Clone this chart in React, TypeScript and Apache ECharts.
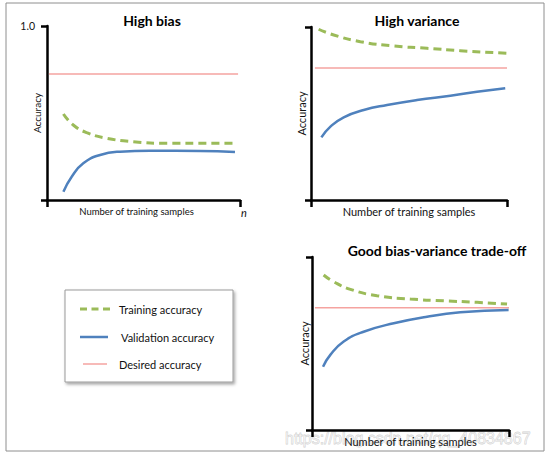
import React, { useEffect, useRef } from "react";
import * as echarts from "echarts";

// x positions (number of training samples, 0..10) and accuracy (0..1)
const biasTrainX = [0.85, 1.36, 2.06, 3.09, 4.47, 6.19, 9.74];
const biasTrainY = [0.494, 0.431, 0.387, 0.355, 0.335, 0.326, 0.326];
const biasValX = [0.85, 1.28, 1.88, 2.75, 3.78, 5.34, 7.93, 9.74];
const biasValY = [0.048, 0.134, 0.211, 0.259, 0.278, 0.283, 0.282, 0.276];
const biasDesired = 0.724;

const varTrainX = [0.39, 1.16, 2.52, 4.22, 5.92, 7.62, 10];
const varTrainY = [0.987, 0.954, 0.915, 0.89, 0.877, 0.863, 0.848];
const varValX = [0.53, 0.99, 1.67, 2.69, 3.88, 5.41, 7.11, 8.47, 9.91];
const varValY = [0.362, 0.424, 0.478, 0.52, 0.549, 0.578, 0.603, 0.626, 0.646];
const varDesired = 0.763;

const goodTrainX = [0.59, 1.1, 1.95, 3.3, 4.99, 6.69, 8.38, 9.9];
const goodTrainY = [0.896, 0.857, 0.813, 0.776, 0.757, 0.747, 0.738, 0.728];
const goodValX = [0.56, 0.93, 1.61, 2.62, 4.15, 5.84, 7.53, 9.98];
const goodValY = [0.366, 0.434, 0.511, 0.568, 0.617, 0.655, 0.68, 0.694];
const goodDesired = 0.707;

const titles = ["High bias", "High variance", "Good bias-variance trade-off"];
const legendNames = ["Training accuracy", "Validation accuracy", "Desired accuracy"];
const yTickLabel = "1.0";

const GREEN = "#9bbb59";
const BLUE = "#4f81bd";
const RED = "#f5a3a0";
const FONT = "Lato";

const pair = (xs: number[], ys: number[]) => xs.map((x, i) => [x, ys[i]]);

const App: React.FC = () => {
  const chartRef = useRef<HTMLDivElement>(null);

  useEffect(() => {
    if (!chartRef.current) return;
    const chart = echarts.init(chartRef.current, undefined, { renderer: "svg" });

    const grids = [
      { left: 47, top: 26, width: 193, height: 174 },
      { left: 311, top: 27, width: 196, height: 173 },
      { left: 312, top: 257, width: 197, height: 173 },
    ];
    // the first panel was pasted a little smaller in the source figure
    const xNameSize = [9.5, 11, 11];
    const yNameSize = [10, 11, 11];
    const yNameGap = [5, 4, 2];

    const axisLine = { show: true, lineStyle: { color: "#000", width: 2.5 } };

    const xAxes = grids.map((_, i) => ({
      type: "value" as const,
      gridIndex: i,
      min: 0,
      max: 10,
      interval: 10,
      axisLine,
      axisTick: { show: true, length: 7, lineStyle: { color: "#000", width: 2.5 } },
      axisLabel: { show: false },
      splitLine: { show: false },
      name: "Number of training samples",
      nameLocation: "middle" as const,
      nameGap: 6,
      nameTextStyle: {
        fontFamily: FONT,
        fontSize: xNameSize[i],
        color: "#111",
        padding: i === 0 ? [0, 14, 0, 0] : [0, 0, 0, 0],
      },
    }));

    const yAxes = grids.map((_, i) => ({
      type: "value" as const,
      gridIndex: i,
      min: 0,
      max: 1,
      interval: 1,
      axisLine,
      axisTick: { show: true, length: 6, lineStyle: { color: "#000", width: 2.5 } },
      axisLabel: {
        show: i === 0,
        margin: 12,
        fontFamily: FONT,
        fontSize: 10.5,
        color: "#111",
        formatter: (v: number) => (v === 1 ? yTickLabel : ""),
      },
      splitLine: { show: false },
      name: "Accuracy",
      nameLocation: "middle" as const,
      nameRotate: 90,
      nameGap: yNameGap[i],
      nameMoveOverlap: false,
      nameTextStyle: { fontFamily: FONT, fontSize: yNameSize[i], color: "#111" },
    }));

    const panels = [
      { train: pair(biasTrainX, biasTrainY), val: pair(biasValX, biasValY), desired: biasDesired, dx: [0.1, 9.9] },
      { train: pair(varTrainX, varTrainY), val: pair(varValX, varValY), desired: varDesired, dx: [0.2, 10] },
      { train: pair(goodTrainX, goodTrainY), val: pair(goodValX, goodValY), desired: goodDesired, dx: [0.15, 10] },
    ];

    const series: any[] = [];
    panels.forEach((p, i) => {
      series.push({
        name: legendNames[2],
        type: "line",
        xAxisIndex: i,
        yAxisIndex: i,
        data: p.dx.map((x) => [x, p.desired]),
        symbol: "none",
        lineStyle: { color: RED, width: 1.5 },
      });
      series.push({
        name: legendNames[0],
        type: "line",
        xAxisIndex: i,
        yAxisIndex: i,
        data: p.train,
        smooth: true,
        symbol: "none",
        lineStyle: { color: GREEN, width: 3, type: [8, 5] },
      });
      series.push({
        name: legendNames[1],
        type: "line",
        xAxisIndex: i,
        yAxisIndex: i,
        data: p.val,
        smooth: true,
        symbol: "none",
        lineStyle: { color: BLUE, width: 2.5 },
      });
    });

    const titlePos = [
      { x: 147, y: 17 },
      { x: 412, y: 17 },
      { x: 432, y: 247 },
    ];

    const legendRows = [
      { y: 309, color: GREEN, dash: [7, 4.5], width: 3, x1: 80, x2: 110, tx: 119 },
      { y: 337, color: BLUE, dash: null, width: 2.5, x1: 80, x2: 108, tx: 121 },
      { y: 364, color: RED, dash: null, width: 1.5, x1: 83, x2: 107, tx: 119 },
    ];

    const option = {
      animation: false,
      backgroundColor: "#fff",
      title: titles.map((t, i) => ({
        text: t,
        left: titlePos[i].x,
        top: titlePos[i].y - 9,
        textAlign: "center",
        textStyle: { fontFamily: FONT, fontSize: 14, fontWeight: "bold", color: "#000" },
      })),
      grid: grids,
      xAxis: xAxes,
      yAxis: yAxes,
      series,
      graphic: [
        {
          type: "rect",
          shape: { x: 6, y: 3, width: 538, height: 448 },
          style: { fill: "none", stroke: "#8e8e8e", lineWidth: 1 },
          silent: true,
        },
        {
          type: "text",
          x: 241,
          y: 207,
          style: { text: "n", font: `italic 11px ${FONT}`, fill: "#111" },
        },
        {
          type: "rect",
          shape: { x: 65, y: 290, width: 168, height: 92 },
          style: {
            fill: "#fff",
            stroke: "#9a9a9a",
            lineWidth: 1,
            shadowBlur: 3,
            shadowOffsetX: 1.5,
            shadowOffsetY: 2,
            shadowColor: "rgba(0,0,0,0.35)",
          },
        },
        ...legendRows.flatMap((r, i) => [
          {
            type: "line",
            shape: { x1: r.x1, y1: r.y, x2: r.x2, y2: r.y },
            style: { stroke: r.color, lineWidth: r.width, lineDash: r.dash || undefined },
          },
          {
            type: "text",
            x: r.tx,
            y: r.y,
            style: {
              text: legendNames[i],
              font: `11px ${FONT}`,
              fill: "#111",
              textVerticalAlign: "middle",
            },
          },
        ]),
        {
          type: "text",
          x: 285,
          y: 438,
          style: {
            text: "https://blog.csdn.net/qq_40834867",
            font: "16px 'Liberation Sans'",
            fill: "rgba(255,255,255,0.4)",
            stroke: "rgba(150,150,150,0.45)",
            lineWidth: 0.8,
            textVerticalAlign: "middle",
          },
          silent: true,
        },
      ],
    };

    chart.setOption(option as any);

    return () => {
      chart.dispose();
    };
  }, []);

  return (
    <div
      ref={chartRef}
      style={{ position: "absolute", left: 0, top: 0, width: "554px", height: "461px" }}
    ></div>
  );
};

export default App;
